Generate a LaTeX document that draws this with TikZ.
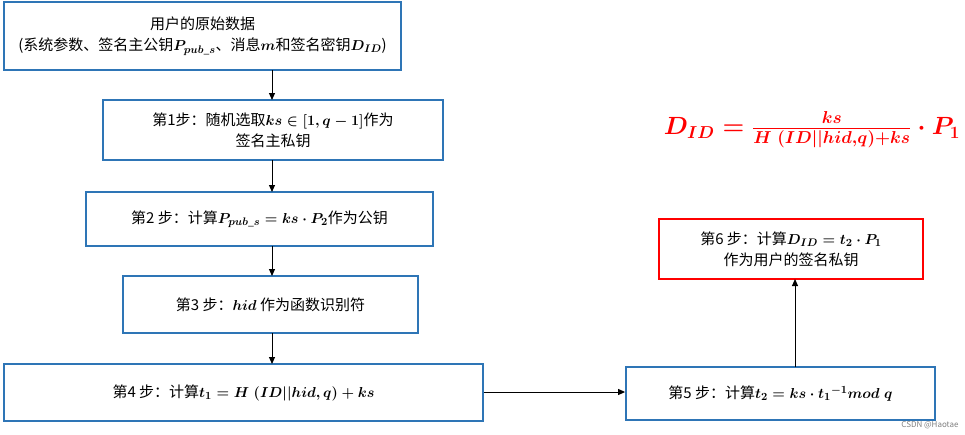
\documentclass[tikz,border=0pt]{standalone}
\usepackage{amsmath}
\usepackage{fontspec}
\setmainfont{Noto Sans CJK SC}
\usetikzlibrary{arrows.meta}
\definecolor{bl}{RGB}{46,117,182}
\definecolor{rd}{RGB}{255,0,0}
\begin{document}
\begin{tikzpicture}[x=1pt,y=-1pt,
 box/.style={draw=bl,line width=1.8pt,align=center,font=\fontsize{15}{21}\selectfont\boldmath,inner sep=0pt},
 arr/.style={-{Triangle[length=7pt,width=6pt]},line width=1pt}]
\useasboundingbox (0,0) rectangle (965,434);
\node[box,minimum width=397pt,minimum height=68pt] (b1) at (202.5,36) {用户的原始数据\\(系统参数、签名主公钥$P_{pub\_s}$、消息$m$和签名密钥$D_{ID}$)};
\node[box,minimum width=340pt,minimum height=60pt] (b2) at (273,130) {第1步：随机选取$ks\in[1,q-1]$作为\\签名主私钥};
\node[box,minimum width=347pt,minimum height=54pt] (b3) at (259.5,219) {第2 步：计算$P_{pub\_s}=ks\cdot P_2$作为公钥};
\node[box,minimum width=295pt,minimum height=57pt] (b4) at (270.5,304.5) {第3 步：$hid$ 作为函数识别符};
\node[box,minimum width=479pt,minimum height=57pt] (b5) at (243.5,392.5) {第4 步：计算$t_1=H\;(ID||hid,q)+ks$};
\node[box,minimum width=309pt,minimum height=53pt] (b6) at (780.5,393.5) {第5 步：计算$t_2=ks\cdot {t_1}^{-1}mod\;q$};
\node[box,draw=rd,minimum width=264pt,minimum height=60pt] (b7) at (791,249) {第6 步：计算$D_{ID}=t_2\cdot P_1$\\作为用户的签名私钥};
\node[text=rd,font=\fontsize{24}{28}\selectfont] (f) at (812,130) {$\boldsymbol{D_{ID}=\frac{ks}{H\;(ID||hid,q)+ks}\cdot P_1}$};
\node[text=gray,font=\fontsize{8}{9}\selectfont,anchor=south east] (w) at (962,432) {CSDN @Haotae};
\draw[arr] (272,70) -- (272,100);
\draw[arr] (272,160) -- (272,192);
\draw[arr] (272,246) -- (272,276);
\draw[arr] (272,333) -- (272,364);
\draw[arr] (b5.east|-0,392) -- (b6.west|-0,392);
\draw[arr] (795,367) -- (795,279);
\end{tikzpicture}
\end{document}
